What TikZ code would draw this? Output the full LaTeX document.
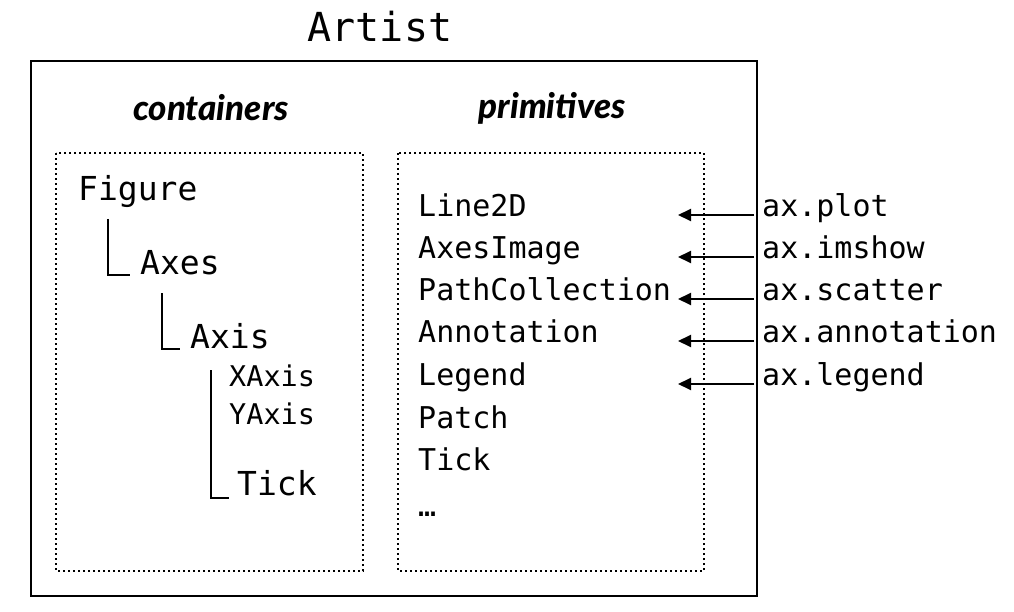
\documentclass[tikz,border=0pt]{standalone}
\usepackage{fontspec}
\setmainfont{Lato}
\setmonofont{DejaVu Sans Mono}
\usetikzlibrary{arrows.meta}
\begin{document}
\begin{tikzpicture}[x=1pt,y=-1pt,
  mono/.style={font=\ttfamily\fontsize{#1}{#1}\selectfont,inner sep=0pt,anchor=west,text height=0.3em,text depth=0em},
  head/.style={font=\fontspec{Lato Black Italic}\fontsize{35}{35}\selectfont,inner sep=0pt},
  dotbox/.style={draw,line width=2pt,dash pattern=on 2pt off 3pt},
  tree/.style={line width=2pt},
  arr/.style={line width=2pt,-{Triangle[length=13pt,width=12pt]}}]
\useasboundingbox (0,0) rectangle (1014,612);
\node[mono=40,anchor=center] (artist) at (380,40) {Artist};
\draw[line width=2pt] (31,61) rectangle (757,596);
\node[head] (cont) at (211,108) {containers};
\node[head] (prim) at (552,108) {primitives};
\draw[dotbox] (56,153) rectangle (363,571);
\draw[dotbox] (398,153) rectangle (704,571);
% tree
\node[mono=33] (fig) at (78,199) {Figure};
\node[mono=33] (axes) at (140,273) {Axes};
\node[mono=33] (axis) at (190,347) {Axis};
\node[mono=28.5] (xaxis) at (229,385) {XAxis};
\node[mono=28.5] (yaxis) at (229,423) {YAxis};
\node[mono=33] (tick) at (237,494) {Tick};
\coordinate (c1) at (108,219);
\draw[tree] (c1) |- ([xshift=-10pt,yshift=-2pt]axes.west);
\coordinate (c2) at (162,293);
\draw[tree] (c2) |- ([xshift=-10pt,yshift=-2pt]axis.west);
\coordinate (c3) at (211,370);
\draw[tree] (c3) |- ([xshift=-8pt,yshift=-4pt]tick.west);
% primitives
\node[mono=30] (p1) at (418,215) {Line2D};
\node[mono=30] (p2) at (418,257) {AxesImage};
\node[mono=30] (p3) at (418,299) {PathCollection};
\node[mono=30] (p4) at (418,341) {Annotation};
\node[mono=30] (p5) at (418,384) {Legend};
\node[mono=30] (p6) at (418,427) {Patch};
\node[mono=30] (p7) at (418,469) {Tick};
\node[mono=30] (p8) at (418,515) {…};
\foreach \i/\t in {1/plot,2/imshow,3/scatter,4/annotation,5/legend}{
  \node[mono=30] (a\i) at (762,0 |- p\i) {ax.\t};
  \coordinate (e\i) at (678,0 |- p\i);
  \draw[arr] ([xshift=-8pt]a\i.west) -- (e\i);
}
\end{tikzpicture}
\end{document}
